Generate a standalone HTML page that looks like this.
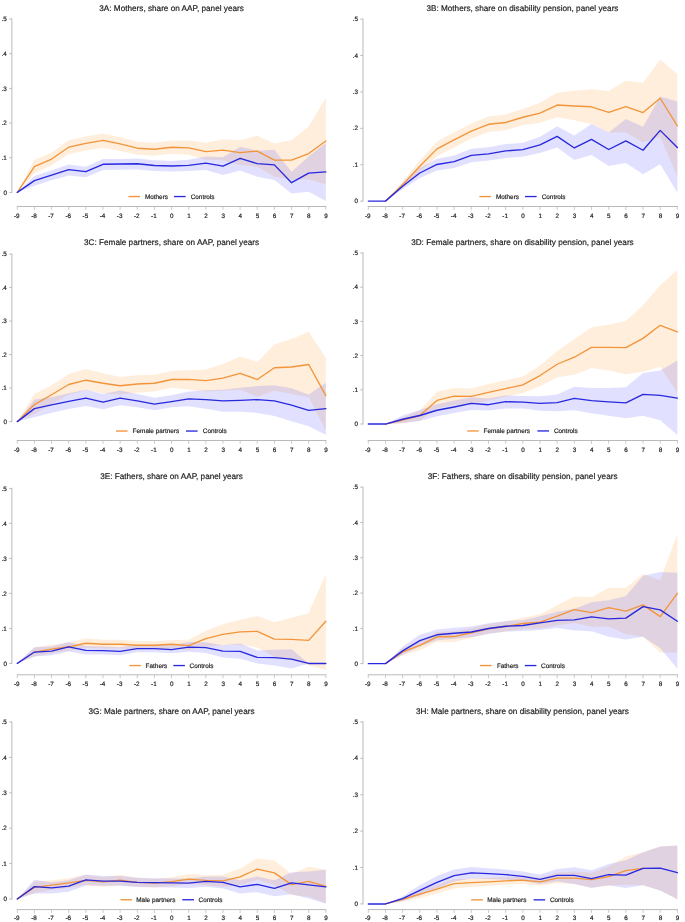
<!DOCTYPE html>
<html lang="en"><head><meta charset="utf-8"><title>Figure 3</title>
<style>
html,body{margin:0;padding:0;background:#fff;}
svg{display:block;}
svg text{font-family:"Liberation Sans",sans-serif;fill:#1c1c1c;text-rendering:geometricPrecision;stroke:#1c1c1c;stroke-width:0.18px;}
.t{font-size:8.2px;text-anchor:middle;}
.k{font-size:6.3px;}
.l{font-size:6.4px;}
.ax{stroke:#bababa;stroke-width:1;fill:none;}
.tk{stroke:#bababa;stroke-width:0.75;fill:none;}
.ob{fill:rgba(255,140,20,0.15);stroke:none;}
.bb{fill:rgba(40,40,255,0.14);stroke:none;}
.ol{stroke:#f2953a;stroke-width:1.35;fill:none;stroke-linejoin:round;stroke-linecap:round;}
.bl{stroke:#2828de;stroke-width:1.35;fill:none;stroke-linejoin:round;stroke-linecap:round;}
.lg{stroke-linecap:butt;}
</style></head><body>
<svg width="685" height="922" viewBox="0 0 685 922">
<rect width="685" height="922" fill="#fff"/>
<g id="panelA">
<text class="t" x="171.56" y="11">3A: Mothers, share on AAP, panel years</text>
<polygon class="ob" points="17.3,192.4 34.44,159.76 51.58,152.73 68.72,140.18 85.86,136.41 103,133.4 120.14,137.16 137.28,141.68 154.42,142.69 171.56,140.68 188.7,140.51 205.84,142.77 222.98,139.26 240.12,140.26 257.26,135.74 274.4,143.53 291.54,140.26 308.68,126.45 325.82,98.08 325.82,184.2 308.68,179.43 291.54,179.43 274.4,176.67 257.26,166.63 240.12,165.37 222.98,160.35 205.84,159.85 188.7,154.83 171.56,153.73 154.42,155.74 137.28,154.74 120.14,150.97 103,147.71 85.86,150.47 68.72,153.99 51.58,165.28 34.44,173.32 17.3,192.4"/>
<polygon class="bb" points="17.3,192.4 34.44,176.08 51.58,170.31 68.72,164.53 85.86,166.79 103,159.01 120.14,159.01 137.28,158.51 154.42,160.26 171.56,161.02 188.7,159.85 205.84,156.58 222.98,157.34 240.12,146.79 257.26,150.81 274.4,149.8 291.54,171.65 308.68,156.58 325.82,142.77 325.82,201.03 308.68,191.74 291.54,193.49 274.4,179.94 257.26,176.67 240.12,170.39 222.98,174.91 205.84,169.89 188.7,170.9 171.56,171.56 154.42,171.06 137.28,169.55 120.14,169.8 103,170.06 85.86,177.34 68.72,175.58 51.58,180.35 34.44,185.87 17.3,192.4"/>
<polyline class="ol" points="17.3,192.4 34.44,166.54 51.58,159.01 68.72,147.21 85.86,143.44 103,140.43 120.14,143.94 137.28,148.21 154.42,149.21 171.56,147.21 188.7,147.8 205.84,151.56 222.98,150.06 240.12,152.57 257.26,151.06 274.4,160.1 291.54,160.1 308.68,153.57 325.82,141.02"/>
<polyline class="bl" points="17.3,192.4 34.44,180.6 51.58,175.08 68.72,169.55 85.86,171.56 103,164.28 120.14,164.03 137.28,163.78 154.42,165.54 171.56,166.04 188.7,165.37 205.84,163.11 222.98,166.13 240.12,158.34 257.26,163.61 274.4,164.87 291.54,182.7 308.68,173.16 325.82,171.9"/>
<path class="ax" d="M11.9,192.9V18.5M16.8,206.5H326.32M11.9,192.4h-2.7M11.9,157.72h-2.7M11.9,123.04h-2.7M11.9,88.36h-2.7M11.9,53.68h-2.7M11.9,19h-2.7"/>
<path class="tk" d="M17.3,206.5v3.3M34.44,206.5v3.3M51.58,206.5v3.3M68.72,206.5v3.3M85.86,206.5v3.3M103,206.5v3.3M120.14,206.5v3.3M137.28,206.5v3.3M154.42,206.5v3.3M171.56,206.5v3.3M188.7,206.5v3.3M205.84,206.5v3.3M222.98,206.5v3.3M240.12,206.5v3.3M257.26,206.5v3.3M274.4,206.5v3.3M291.54,206.5v3.3M308.68,206.5v3.3M325.82,206.5v3.3"/>
<text class="k" text-anchor="end" x="6.9" y="194.55">0</text><text class="k" text-anchor="end" x="6.9" y="159.87">.1</text><text class="k" text-anchor="end" x="6.9" y="125.19">.2</text><text class="k" text-anchor="end" x="6.9" y="90.51">.3</text><text class="k" text-anchor="end" x="6.9" y="55.83">.4</text><text class="k" text-anchor="end" x="6.9" y="21.15">.5</text>
<text class="k" text-anchor="middle" x="16.8" y="217.6">-9</text><text class="k" text-anchor="middle" x="33.94" y="217.6">-8</text><text class="k" text-anchor="middle" x="51.08" y="217.6">-7</text><text class="k" text-anchor="middle" x="68.22" y="217.6">-6</text><text class="k" text-anchor="middle" x="85.36" y="217.6">-5</text><text class="k" text-anchor="middle" x="102.5" y="217.6">-4</text><text class="k" text-anchor="middle" x="119.64" y="217.6">-3</text><text class="k" text-anchor="middle" x="136.78" y="217.6">-2</text><text class="k" text-anchor="middle" x="153.92" y="217.6">-1</text><text class="k" text-anchor="middle" x="171.76" y="217.6">0</text><text class="k" text-anchor="middle" x="188.9" y="217.6">1</text><text class="k" text-anchor="middle" x="206.04" y="217.6">2</text><text class="k" text-anchor="middle" x="223.18" y="217.6">3</text><text class="k" text-anchor="middle" x="240.32" y="217.6">4</text><text class="k" text-anchor="middle" x="257.46" y="217.6">5</text><text class="k" text-anchor="middle" x="274.6" y="217.6">6</text><text class="k" text-anchor="middle" x="291.74" y="217.6">7</text><text class="k" text-anchor="middle" x="308.88" y="217.6">8</text><text class="k" text-anchor="middle" x="326.02" y="217.6">9</text>
<line class="ol lg" x1="128.4" x2="140" y1="196.55" y2="196.55"/><text class="l" x="144.9" y="198.6">Mothers</text><line class="bl lg" x1="174" x2="185.6" y1="196.55" y2="196.55"/><text class="l" x="190.7" y="198.6">Controls</text>
</g>
<g id="panelB">
<text class="t" x="522.43" y="11">3B: Mothers, share on disability pension, panel years</text>
<polygon class="ob" points="368.3,201.12 385.47,201.12 402.64,181.78 419.81,160.44 436.98,141.61 454.15,132.32 471.32,123.53 488.49,116.5 505.66,114.49 522.83,108.96 540,102.77 557.17,92.73 574.34,90.72 591.51,89.21 608.68,90.97 625.85,80.68 643.02,82.69 660.19,59.59 677.36,73.9 677.36,176.85 660.19,136.67 643.02,142.45 625.85,132.4 608.68,132.4 591.51,124.12 574.34,120.35 557.17,117.34 540,122.86 522.83,125.28 505.66,130.31 488.49,132.06 471.32,138.59 454.15,147.38 436.98,156.17 419.81,171.74 402.64,187.56 385.47,201.12 368.3,201.12"/>
<polygon class="bb" points="368.3,201.12 385.47,201.12 402.64,183.04 419.81,167.97 436.98,158.68 454.15,155.42 471.32,148.64 488.49,147.13 505.66,144.12 522.83,142.86 540,136.67 557.17,126.13 574.34,135.42 591.51,124.12 608.68,132.4 625.85,119.09 643.02,126.63 660.19,96.5 677.36,101.52 677.36,192.67 660.19,164.29 643.02,174.34 625.85,163.04 608.68,166.05 591.51,155 574.34,160.02 557.17,147.47 540,152.99 522.83,156.67 505.66,157.93 488.49,160.44 471.32,162.2 454.15,167.97 436.98,170.48 419.81,178.01 402.64,189.31 385.47,201.12 368.3,201.12"/>
<polyline class="ol" points="385.47,201.12 402.64,184.79 419.81,166.21 436.98,148.89 454.15,139.85 471.32,131.06 488.49,124.28 505.66,122.52 522.83,117.25 540,113.07 557.17,105.03 574.34,106.04 591.51,106.79 608.68,112.32 625.85,106.54 643.02,112.57 660.19,98.25 677.36,125.87"/>
<polyline class="bl" points="368.3,201.12 385.47,201.12 402.64,186.3 419.81,172.99 436.98,164.46 454.15,161.69 471.32,155.42 488.49,153.91 505.66,150.9 522.83,149.64 540,144.96 557.17,136.42 574.34,147.97 591.51,139.43 608.68,149.48 625.85,140.94 643.02,150.23 660.19,130.39 677.36,147.47"/>
<path class="ax" d="M363,201.6V18.6M367.8,206.5H677.86M363,201.1h-2.7M363,164.7h-2.7M363,128.3h-2.7M363,91.9h-2.7M363,55.5h-2.7M363,19.1h-2.7"/>
<path class="tk" d="M368.3,206.5v3.3M385.47,206.5v3.3M402.64,206.5v3.3M419.81,206.5v3.3M436.98,206.5v3.3M454.15,206.5v3.3M471.32,206.5v3.3M488.49,206.5v3.3M505.66,206.5v3.3M522.83,206.5v3.3M540,206.5v3.3M557.17,206.5v3.3M574.34,206.5v3.3M591.51,206.5v3.3M608.68,206.5v3.3M625.85,206.5v3.3M643.02,206.5v3.3M660.19,206.5v3.3M677.36,206.5v3.3"/>
<text class="k" text-anchor="end" x="358" y="203.25">0</text><text class="k" text-anchor="end" x="358" y="166.85">.1</text><text class="k" text-anchor="end" x="358" y="130.45">.2</text><text class="k" text-anchor="end" x="358" y="94.05">.3</text><text class="k" text-anchor="end" x="358" y="57.65">.4</text><text class="k" text-anchor="end" x="358" y="21.25">.5</text>
<text class="k" text-anchor="middle" x="367.8" y="217.6">-9</text><text class="k" text-anchor="middle" x="384.97" y="217.6">-8</text><text class="k" text-anchor="middle" x="402.14" y="217.6">-7</text><text class="k" text-anchor="middle" x="419.31" y="217.6">-6</text><text class="k" text-anchor="middle" x="436.48" y="217.6">-5</text><text class="k" text-anchor="middle" x="453.65" y="217.6">-4</text><text class="k" text-anchor="middle" x="470.82" y="217.6">-3</text><text class="k" text-anchor="middle" x="487.99" y="217.6">-2</text><text class="k" text-anchor="middle" x="505.16" y="217.6">-1</text><text class="k" text-anchor="middle" x="523.03" y="217.6">0</text><text class="k" text-anchor="middle" x="540.2" y="217.6">1</text><text class="k" text-anchor="middle" x="557.37" y="217.6">2</text><text class="k" text-anchor="middle" x="574.54" y="217.6">3</text><text class="k" text-anchor="middle" x="591.71" y="217.6">4</text><text class="k" text-anchor="middle" x="608.88" y="217.6">5</text><text class="k" text-anchor="middle" x="626.05" y="217.6">6</text><text class="k" text-anchor="middle" x="643.22" y="217.6">7</text><text class="k" text-anchor="middle" x="660.39" y="217.6">8</text><text class="k" text-anchor="middle" x="677.56" y="217.6">9</text>
<line class="ol lg" x1="479.4" x2="491" y1="196.55" y2="196.55"/><text class="l" x="495.9" y="198.6">Mothers</text><line class="bl lg" x1="525" x2="536.6" y1="196.55" y2="196.55"/><text class="l" x="541.7" y="198.6">Controls</text>
</g>
<g id="panelC">
<text class="t" x="171.56" y="244.9">3C: Female partners, share on AAP, panel years</text>
<polygon class="ob" points="17.3,421.65 34.44,394.03 51.58,385.24 68.72,373.94 85.86,368.92 103,373.19 120.14,376.95 137.28,375.2 154.42,374.69 171.56,370.93 188.7,370.26 205.84,369.51 222.98,363.99 240.12,356.45 257.26,361.98 274.4,344.4 291.54,338.88 308.68,331.85 325.82,357.71 325.82,430.53 308.68,397.13 291.54,394.12 274.4,390.85 257.26,396.63 240.12,389.85 222.98,390.85 205.84,391.61 188.7,389.85 171.56,387.75 154.42,391.52 137.28,392.77 120.14,394.53 103,393.28 85.86,390.26 68.72,394.78 51.58,404.07 34.44,414.12 17.3,421.65"/>
<polygon class="bb" points="17.3,421.65 34.44,399.55 51.58,397.29 68.72,393.28 85.86,389.76 103,394.03 120.14,390.51 137.28,394.03 154.42,397.8 171.56,395.28 188.7,391.61 205.84,390.35 222.98,389.85 240.12,387.84 257.26,386.08 274.4,385.33 291.54,388.34 308.68,394.62 325.82,382.82 325.82,434.79 308.68,426.26 291.54,421.24 274.4,415.96 257.26,412.95 240.12,411.69 222.98,411.69 205.84,408.68 188.7,406.17 171.56,407.34 154.42,410.35 137.28,407.34 120.14,405.33 103,409.35 85.86,406.08 68.72,409.09 51.58,412.86 34.44,417.13 17.3,421.65"/>
<polyline class="ol" points="17.3,421.65 34.44,404.58 51.58,394.78 68.72,384.49 85.86,380.22 103,383.23 120.14,385.74 137.28,383.99 154.42,383.23 171.56,379.47 188.7,379.3 205.84,380.56 222.98,378.05 240.12,373.28 257.26,379.55 274.4,367.75 291.54,367 308.68,364.49 325.82,395.62"/>
<polyline class="bl" points="17.3,421.65 34.44,408.59 51.58,404.83 68.72,401.31 85.86,398.05 103,402.06 120.14,398.05 137.28,400.81 154.42,404.07 171.56,401.56 188.7,398.89 205.84,399.64 222.98,400.9 240.12,400.39 257.26,399.64 274.4,400.9 291.54,405.16 308.68,410.44 325.82,408.68"/>
<path class="ax" d="M11.9,422.1V253.6M16.8,440.5H326.32M11.9,421.6h-2.7M11.9,388.1h-2.7M11.9,354.6h-2.7M11.9,321.1h-2.7M11.9,287.6h-2.7M11.9,254.1h-2.7"/>
<path class="tk" d="M17.3,440.5v3.3M34.44,440.5v3.3M51.58,440.5v3.3M68.72,440.5v3.3M85.86,440.5v3.3M103,440.5v3.3M120.14,440.5v3.3M137.28,440.5v3.3M154.42,440.5v3.3M171.56,440.5v3.3M188.7,440.5v3.3M205.84,440.5v3.3M222.98,440.5v3.3M240.12,440.5v3.3M257.26,440.5v3.3M274.4,440.5v3.3M291.54,440.5v3.3M308.68,440.5v3.3M325.82,440.5v3.3"/>
<text class="k" text-anchor="end" x="6.9" y="423.75">0</text><text class="k" text-anchor="end" x="6.9" y="390.25">.1</text><text class="k" text-anchor="end" x="6.9" y="356.75">.2</text><text class="k" text-anchor="end" x="6.9" y="323.25">.3</text><text class="k" text-anchor="end" x="6.9" y="289.75">.4</text><text class="k" text-anchor="end" x="6.9" y="256.25">.5</text>
<text class="k" text-anchor="middle" x="16.8" y="451.6">-9</text><text class="k" text-anchor="middle" x="33.94" y="451.6">-8</text><text class="k" text-anchor="middle" x="51.08" y="451.6">-7</text><text class="k" text-anchor="middle" x="68.22" y="451.6">-6</text><text class="k" text-anchor="middle" x="85.36" y="451.6">-5</text><text class="k" text-anchor="middle" x="102.5" y="451.6">-4</text><text class="k" text-anchor="middle" x="119.64" y="451.6">-3</text><text class="k" text-anchor="middle" x="136.78" y="451.6">-2</text><text class="k" text-anchor="middle" x="153.92" y="451.6">-1</text><text class="k" text-anchor="middle" x="171.76" y="451.6">0</text><text class="k" text-anchor="middle" x="188.9" y="451.6">1</text><text class="k" text-anchor="middle" x="206.04" y="451.6">2</text><text class="k" text-anchor="middle" x="223.18" y="451.6">3</text><text class="k" text-anchor="middle" x="240.32" y="451.6">4</text><text class="k" text-anchor="middle" x="257.46" y="451.6">5</text><text class="k" text-anchor="middle" x="274.6" y="451.6">6</text><text class="k" text-anchor="middle" x="291.74" y="451.6">7</text><text class="k" text-anchor="middle" x="308.88" y="451.6">8</text><text class="k" text-anchor="middle" x="326.02" y="451.6">9</text>
<line class="ol lg" x1="116" x2="127.6" y1="431.05" y2="431.05"/><text class="l" x="132.6" y="433.1">Female partners</text><line class="bl lg" x1="186" x2="197.6" y1="431.05" y2="431.05"/><text class="l" x="202.8" y="433.1">Controls</text>
</g>
<g id="panelD">
<text class="t" x="522.43" y="244.9">3D: Female partners, share on disability pension, panel years</text>
<polygon class="ob" points="368.3,424.04 385.47,424.04 402.64,417.51 419.81,410.48 436.98,391.65 454.15,387.88 471.32,388.39 488.49,384.12 505.66,380.35 522.83,376.58 540,365.5 557.17,350.94 574.34,339.14 591.51,327.34 608.68,324.83 625.85,321.06 643.02,305.24 660.19,285.15 677.36,270.09 677.36,393.12 660.19,366.76 643.02,371.78 625.85,374.29 608.68,370.53 591.51,368.01 574.34,374.79 557.17,377.56 540,386.34 522.83,392.91 505.66,396.67 488.49,400.44 471.32,404.46 454.15,404.96 436.98,408.47 419.81,420.53 402.64,423.54 385.47,424.04 368.3,424.04"/>
<polygon class="bb" points="368.3,424.04 385.47,424.04 402.64,415.5 419.81,409.98 436.98,404.2 454.15,400.44 471.32,397.17 488.49,398.43 505.66,395.42 522.83,395.92 540,396.14 557.17,394.38 574.34,386.85 591.51,388.1 608.68,388.1 625.85,387.35 643.02,373.04 660.19,370.53 677.36,360.48 677.36,435.06 660.19,420.24 643.02,415.72 625.85,418.23 608.68,415.72 591.51,413.21 574.34,410.2 557.17,411.2 540,410.7 522.83,408.47 505.66,408.47 488.49,410.48 471.32,409.98 454.15,412.99 436.98,416.26 419.81,421.03 402.64,423.04 385.47,424.04 368.3,424.04"/>
<polyline class="ol" points="385.47,424.04 402.64,420.02 419.81,415.5 436.98,400.44 454.15,396.17 471.32,396.42 488.49,392.4 505.66,388.64 522.83,384.87 540,375.55 557.17,364.25 574.34,357.22 591.51,347.42 608.68,347.42 625.85,347.68 643.02,338.39 660.19,325.33 677.36,331.86"/>
<polyline class="bl" points="368.3,424.04 385.47,424.04 402.64,419.27 419.81,415.5 436.98,410.23 454.15,406.97 471.32,403.45 488.49,404.71 505.66,401.69 522.83,402.2 540,403.42 557.17,402.67 574.34,398.4 591.51,400.66 608.68,401.91 625.85,402.92 643.02,394.38 660.19,395.38 677.36,398.15"/>
<path class="ax" d="M363,424.5V252.5M367.8,440.5H677.86M363,424h-2.7M363,389.8h-2.7M363,355.6h-2.7M363,321.4h-2.7M363,287.2h-2.7M363,253h-2.7"/>
<path class="tk" d="M368.3,440.5v3.3M385.47,440.5v3.3M402.64,440.5v3.3M419.81,440.5v3.3M436.98,440.5v3.3M454.15,440.5v3.3M471.32,440.5v3.3M488.49,440.5v3.3M505.66,440.5v3.3M522.83,440.5v3.3M540,440.5v3.3M557.17,440.5v3.3M574.34,440.5v3.3M591.51,440.5v3.3M608.68,440.5v3.3M625.85,440.5v3.3M643.02,440.5v3.3M660.19,440.5v3.3M677.36,440.5v3.3"/>
<text class="k" text-anchor="end" x="358" y="426.15">0</text><text class="k" text-anchor="end" x="358" y="391.95">.1</text><text class="k" text-anchor="end" x="358" y="357.75">.2</text><text class="k" text-anchor="end" x="358" y="323.55">.3</text><text class="k" text-anchor="end" x="358" y="289.35">.4</text><text class="k" text-anchor="end" x="358" y="255.15">.5</text>
<text class="k" text-anchor="middle" x="367.8" y="451.6">-9</text><text class="k" text-anchor="middle" x="384.97" y="451.6">-8</text><text class="k" text-anchor="middle" x="402.14" y="451.6">-7</text><text class="k" text-anchor="middle" x="419.31" y="451.6">-6</text><text class="k" text-anchor="middle" x="436.48" y="451.6">-5</text><text class="k" text-anchor="middle" x="453.65" y="451.6">-4</text><text class="k" text-anchor="middle" x="470.82" y="451.6">-3</text><text class="k" text-anchor="middle" x="487.99" y="451.6">-2</text><text class="k" text-anchor="middle" x="505.16" y="451.6">-1</text><text class="k" text-anchor="middle" x="523.03" y="451.6">0</text><text class="k" text-anchor="middle" x="540.2" y="451.6">1</text><text class="k" text-anchor="middle" x="557.37" y="451.6">2</text><text class="k" text-anchor="middle" x="574.54" y="451.6">3</text><text class="k" text-anchor="middle" x="591.71" y="451.6">4</text><text class="k" text-anchor="middle" x="608.88" y="451.6">5</text><text class="k" text-anchor="middle" x="626.05" y="451.6">6</text><text class="k" text-anchor="middle" x="643.22" y="451.6">7</text><text class="k" text-anchor="middle" x="660.39" y="451.6">8</text><text class="k" text-anchor="middle" x="677.56" y="451.6">9</text>
<line class="ol lg" x1="467.2" x2="478.8" y1="430.95" y2="430.95"/><text class="l" x="483.5" y="433">Female partners</text><line class="bl lg" x1="537.4" x2="549" y1="430.95" y2="430.95"/><text class="l" x="553.9" y="433">Controls</text>
</g>
<g id="panelE">
<text class="t" x="171.56" y="479.2">3E: Fathers, share on AAP, panel years</text>
<polygon class="ob" points="17.3,663.36 34.44,647.29 51.58,644.78 68.72,642.77 85.86,638.25 103,639.76 120.14,639.76 137.28,641.02 154.42,641.27 171.56,640.26 188.7,639.85 205.84,630.81 222.98,624.03 240.12,619.76 257.26,615.99 274.4,622.27 291.54,617.75 308.68,613.23 325.82,573.81 325.82,669.73 308.68,665.46 291.54,659.94 274.4,656.67 257.26,647.38 240.12,644.87 222.98,645.37 205.84,646.63 188.7,649.89 171.56,648.55 154.42,649.3 137.28,649.3 120.14,648.55 103,648.55 85.86,647.8 68.72,650.81 51.58,653.32 34.44,656.58 17.3,663.36"/>
<polygon class="bb" points="17.3,663.36 34.44,647.29 51.58,646.54 68.72,642.02 85.86,646.04 103,646.54 120.14,647.29 137.28,644.78 154.42,644.78 171.56,645.28 188.7,642.11 205.84,642.36 222.98,645.37 240.12,643.61 257.26,650.39 274.4,649.64 291.54,649.14 308.68,663.45 325.82,663.45 325.82,663.45 308.68,663.45 291.54,668.47 274.4,665.46 257.26,663.45 240.12,658.68 222.98,657.42 205.84,652.91 188.7,651.65 171.56,653.32 154.42,652.32 137.28,652.32 120.14,655.33 103,654.58 85.86,654.58 68.72,651.56 51.58,655.33 34.44,656.58 17.3,663.36"/>
<polyline class="ol" points="34.44,652.06 51.58,649.05 68.72,646.79 85.86,643.28 103,644.28 120.14,644.28 137.28,645.28 154.42,645.28 171.56,644.28 188.7,645.62 205.84,638.59 222.98,634.32 240.12,631.81 257.26,631.31 274.4,639.09 291.54,639.35 308.68,640.35 325.82,621.27"/>
<polyline class="bl" points="17.3,663.36 34.44,652.06 51.58,651.06 68.72,646.79 85.86,650.31 103,650.56 120.14,651.31 137.28,648.55 154.42,648.55 171.56,649.55 188.7,647.13 205.84,647.63 222.98,651.15 240.12,651.4 257.26,657.42 274.4,657.68 291.54,659.18 308.68,663.45 325.82,663.45"/>
<path class="ax" d="M11.9,663.9V487.9M16.8,674.8H326.32M11.9,663.4h-2.7M11.9,628.4h-2.7M11.9,593.4h-2.7M11.9,558.4h-2.7M11.9,523.4h-2.7M11.9,488.4h-2.7"/>
<path class="tk" d="M17.3,674.8v3.3M34.44,674.8v3.3M51.58,674.8v3.3M68.72,674.8v3.3M85.86,674.8v3.3M103,674.8v3.3M120.14,674.8v3.3M137.28,674.8v3.3M154.42,674.8v3.3M171.56,674.8v3.3M188.7,674.8v3.3M205.84,674.8v3.3M222.98,674.8v3.3M240.12,674.8v3.3M257.26,674.8v3.3M274.4,674.8v3.3M291.54,674.8v3.3M308.68,674.8v3.3M325.82,674.8v3.3"/>
<text class="k" text-anchor="end" x="6.9" y="665.55">0</text><text class="k" text-anchor="end" x="6.9" y="630.55">.1</text><text class="k" text-anchor="end" x="6.9" y="595.55">.2</text><text class="k" text-anchor="end" x="6.9" y="560.55">.3</text><text class="k" text-anchor="end" x="6.9" y="525.55">.4</text><text class="k" text-anchor="end" x="6.9" y="490.55">.5</text>
<text class="k" text-anchor="middle" x="16.8" y="685.65">-9</text><text class="k" text-anchor="middle" x="33.94" y="685.65">-8</text><text class="k" text-anchor="middle" x="51.08" y="685.65">-7</text><text class="k" text-anchor="middle" x="68.22" y="685.65">-6</text><text class="k" text-anchor="middle" x="85.36" y="685.65">-5</text><text class="k" text-anchor="middle" x="102.5" y="685.65">-4</text><text class="k" text-anchor="middle" x="119.64" y="685.65">-3</text><text class="k" text-anchor="middle" x="136.78" y="685.65">-2</text><text class="k" text-anchor="middle" x="153.92" y="685.65">-1</text><text class="k" text-anchor="middle" x="171.76" y="685.65">0</text><text class="k" text-anchor="middle" x="188.9" y="685.65">1</text><text class="k" text-anchor="middle" x="206.04" y="685.65">2</text><text class="k" text-anchor="middle" x="223.18" y="685.65">3</text><text class="k" text-anchor="middle" x="240.32" y="685.65">4</text><text class="k" text-anchor="middle" x="257.46" y="685.65">5</text><text class="k" text-anchor="middle" x="274.6" y="685.65">6</text><text class="k" text-anchor="middle" x="291.74" y="685.65">7</text><text class="k" text-anchor="middle" x="308.88" y="685.65">8</text><text class="k" text-anchor="middle" x="326.02" y="685.65">9</text>
<line class="ol lg" x1="129.3" x2="140.9" y1="665.55" y2="665.55"/><text class="l" x="145.6" y="667.6">Fathers</text><line class="bl lg" x1="173.3" x2="184.9" y1="665.55" y2="665.55"/><text class="l" x="189.6" y="667.6">Controls</text>
</g>
<g id="panelF">
<text class="t" x="522.63" y="479">3F: Fathers, share on disability pension, panel years</text>
<polygon class="ob" points="368.3,663.66 385.47,663.66 402.64,648.34 419.81,640.31 436.98,632.02 454.15,631.02 471.32,628.25 488.49,623.99 505.66,621.47 522.83,617.71 540,614.16 557.17,605.37 574.34,596.58 591.51,597.34 608.68,587.8 625.85,587.8 643.02,573.99 660.19,580.26 677.36,533.81 677.36,652.58 660.19,652.58 643.02,636.76 625.85,634.25 608.68,626.72 591.51,626.72 574.34,622.95 557.17,625.46 540,628.47 522.83,629.01 505.66,631.52 488.49,633.53 471.32,637.8 454.15,642.06 436.98,641.81 419.81,650.35 402.64,655.37 385.47,663.66 368.3,663.66"/>
<polygon class="bb" points="368.3,663.66 385.47,663.66 402.64,646.58 419.81,634.78 436.98,629.51 454.15,627.75 471.32,626.5 488.49,623.23 505.66,620.97 522.83,620.22 540,616.17 557.17,611.65 574.34,608.64 591.51,602.36 608.68,600.35 625.85,596.08 643.02,575.74 660.19,571.98 677.36,572.73 677.36,668.65 660.19,648.06 643.02,636.76 625.85,639.52 608.68,636.76 591.51,631.24 574.34,630.48 557.17,627.97 540,629.98 522.83,631.02 505.66,631.52 488.49,634.03 471.32,637.29 454.15,638.8 436.98,640.31 419.81,646.58 402.64,654.87 385.47,663.66 368.3,663.66"/>
<polyline class="ol" points="385.47,663.66 402.64,651.86 419.81,645.33 436.98,636.79 454.15,636.54 471.32,632.77 488.49,628.76 505.66,626.5 522.83,623.48 540,622.2 557.17,616.17 574.34,609.64 591.51,612.65 608.68,607.63 625.85,611.15 643.02,604.87 660.19,616.67 677.36,593.32"/>
<polyline class="bl" points="368.3,663.66 385.47,663.66 402.64,650.85 419.81,640.56 436.98,634.78 454.15,633.28 471.32,632.02 488.49,628.51 505.66,626.25 522.83,625.49 540,622.95 557.17,620.44 574.34,619.94 591.51,616.92 608.68,618.93 625.85,618.18 643.02,606.63 660.19,609.89 677.36,621.19"/>
<path class="ax" d="M363,664.15V486.65M367.8,674.8H677.86M363,663.65h-2.7M363,628.35h-2.7M363,593.05h-2.7M363,557.75h-2.7M363,522.45h-2.7M363,487.15h-2.7"/>
<path class="tk" d="M368.3,674.8v3.3M385.47,674.8v3.3M402.64,674.8v3.3M419.81,674.8v3.3M436.98,674.8v3.3M454.15,674.8v3.3M471.32,674.8v3.3M488.49,674.8v3.3M505.66,674.8v3.3M522.83,674.8v3.3M540,674.8v3.3M557.17,674.8v3.3M574.34,674.8v3.3M591.51,674.8v3.3M608.68,674.8v3.3M625.85,674.8v3.3M643.02,674.8v3.3M660.19,674.8v3.3M677.36,674.8v3.3"/>
<text class="k" text-anchor="end" x="358" y="665.8">0</text><text class="k" text-anchor="end" x="358" y="630.5">.1</text><text class="k" text-anchor="end" x="358" y="595.2">.2</text><text class="k" text-anchor="end" x="358" y="559.9">.3</text><text class="k" text-anchor="end" x="358" y="524.6">.4</text><text class="k" text-anchor="end" x="358" y="489.3">.5</text>
<text class="k" text-anchor="middle" x="367.8" y="685.65">-9</text><text class="k" text-anchor="middle" x="384.97" y="685.65">-8</text><text class="k" text-anchor="middle" x="402.14" y="685.65">-7</text><text class="k" text-anchor="middle" x="419.31" y="685.65">-6</text><text class="k" text-anchor="middle" x="436.48" y="685.65">-5</text><text class="k" text-anchor="middle" x="453.65" y="685.65">-4</text><text class="k" text-anchor="middle" x="470.82" y="685.65">-3</text><text class="k" text-anchor="middle" x="487.99" y="685.65">-2</text><text class="k" text-anchor="middle" x="505.16" y="685.65">-1</text><text class="k" text-anchor="middle" x="523.03" y="685.65">0</text><text class="k" text-anchor="middle" x="540.2" y="685.65">1</text><text class="k" text-anchor="middle" x="557.37" y="685.65">2</text><text class="k" text-anchor="middle" x="574.54" y="685.65">3</text><text class="k" text-anchor="middle" x="591.71" y="685.65">4</text><text class="k" text-anchor="middle" x="608.88" y="685.65">5</text><text class="k" text-anchor="middle" x="626.05" y="685.65">6</text><text class="k" text-anchor="middle" x="643.22" y="685.65">7</text><text class="k" text-anchor="middle" x="660.39" y="685.65">8</text><text class="k" text-anchor="middle" x="677.56" y="685.65">9</text>
<line class="ol lg" x1="480" x2="491.6" y1="665.55" y2="665.55"/><text class="l" x="496.9" y="667.6">Fathers</text><line class="bl lg" x1="524.8" x2="536.4" y1="665.55" y2="665.55"/><text class="l" x="541.1" y="667.6">Controls</text>
</g>
<g id="panelG">
<text class="t" x="171.56" y="713.8">3G: Male partners, share on AAP, panel years</text>
<polygon class="ob" points="17.3,898.93 34.44,881.61 51.58,880.35 68.72,878.34 85.86,874.83 103,877.34 120.14,874.83 137.28,877.84 154.42,879.09 171.56,877.34 188.7,874.07 205.84,875.33 222.98,874.83 240.12,868.55 257.26,858.51 274.4,860.51 291.54,874.07 308.68,866.54 325.82,869.8 325.82,903.45 308.68,896.67 291.54,894.91 274.4,885.37 257.26,879.85 240.12,885.37 222.98,886.63 205.84,885.37 188.7,884.12 171.56,886.13 154.42,887.38 137.28,886.63 120.14,885.37 103,886.63 85.86,885.37 68.72,887.88 51.58,889.89 34.44,892.91 17.3,898.93"/>
<polygon class="bb" points="17.3,898.93 34.44,879.85 51.58,882.36 68.72,880.35 85.86,874.58 103,876.08 120.14,876.08 137.28,877.84 154.42,878.34 171.56,878.59 188.7,878.59 205.84,876.58 222.98,876.58 240.12,880.35 257.26,876.58 274.4,880.35 291.54,872.32 308.68,871.56 325.82,869.8 325.82,903.45 308.68,898.43 291.54,894.16 274.4,896.17 257.26,892.15 240.12,893.41 222.98,888.39 205.84,886.63 188.7,887.88 171.56,887.38 154.42,887.13 137.28,886.88 120.14,885.87 103,885.87 85.86,885.37 68.72,891.65 51.58,893.41 34.44,893.41 17.3,898.93"/>
<polyline class="ol" points="17.3,898.93 34.44,887.38 51.58,885.12 68.72,882.86 85.86,880.35 103,881.86 120.14,880.1 137.28,882.36 154.42,883.11 171.56,881.61 188.7,879.09 205.84,880.35 222.98,880.85 240.12,876.84 257.26,869.05 274.4,872.82 291.54,884.62 308.68,881.35 325.82,886.38"/>
<polyline class="bl" points="17.3,898.93 34.44,886.63 51.58,887.88 68.72,886.13 85.86,879.85 103,881.1 120.14,881.1 137.28,882.36 154.42,882.61 171.56,882.86 188.7,883.11 205.84,881.35 222.98,882.36 240.12,886.88 257.26,884.37 274.4,888.39 291.54,882.86 308.68,884.87 325.82,886.88"/>
<path class="ax" d="M11.9,899.5V721.5M16.8,909.6H326.32M11.9,899h-2.7M11.9,863.6h-2.7M11.9,828.2h-2.7M11.9,792.8h-2.7M11.9,757.4h-2.7M11.9,722h-2.7"/>
<path class="tk" d="M17.3,909.6v3.3M34.44,909.6v3.3M51.58,909.6v3.3M68.72,909.6v3.3M85.86,909.6v3.3M103,909.6v3.3M120.14,909.6v3.3M137.28,909.6v3.3M154.42,909.6v3.3M171.56,909.6v3.3M188.7,909.6v3.3M205.84,909.6v3.3M222.98,909.6v3.3M240.12,909.6v3.3M257.26,909.6v3.3M274.4,909.6v3.3M291.54,909.6v3.3M308.68,909.6v3.3M325.82,909.6v3.3"/>
<text class="k" text-anchor="end" x="6.9" y="901.15">0</text><text class="k" text-anchor="end" x="6.9" y="865.75">.1</text><text class="k" text-anchor="end" x="6.9" y="830.35">.2</text><text class="k" text-anchor="end" x="6.9" y="794.95">.3</text><text class="k" text-anchor="end" x="6.9" y="759.55">.4</text><text class="k" text-anchor="end" x="6.9" y="724.15">.5</text>
<text class="k" text-anchor="middle" x="16.8" y="920.4">-9</text><text class="k" text-anchor="middle" x="33.94" y="920.4">-8</text><text class="k" text-anchor="middle" x="51.08" y="920.4">-7</text><text class="k" text-anchor="middle" x="68.22" y="920.4">-6</text><text class="k" text-anchor="middle" x="85.36" y="920.4">-5</text><text class="k" text-anchor="middle" x="102.5" y="920.4">-4</text><text class="k" text-anchor="middle" x="119.64" y="920.4">-3</text><text class="k" text-anchor="middle" x="136.78" y="920.4">-2</text><text class="k" text-anchor="middle" x="153.92" y="920.4">-1</text><text class="k" text-anchor="middle" x="171.76" y="920.4">0</text><text class="k" text-anchor="middle" x="188.9" y="920.4">1</text><text class="k" text-anchor="middle" x="206.04" y="920.4">2</text><text class="k" text-anchor="middle" x="223.18" y="920.4">3</text><text class="k" text-anchor="middle" x="240.32" y="920.4">4</text><text class="k" text-anchor="middle" x="257.46" y="920.4">5</text><text class="k" text-anchor="middle" x="274.6" y="920.4">6</text><text class="k" text-anchor="middle" x="291.74" y="920.4">7</text><text class="k" text-anchor="middle" x="308.88" y="920.4">8</text><text class="k" text-anchor="middle" x="326.02" y="920.4">9</text>
<line class="ol lg" x1="120.5" x2="132.1" y1="899.75" y2="899.75"/><text class="l" x="136.3" y="901.8">Male partners</text><line class="bl lg" x1="182.3" x2="193.9" y1="899.75" y2="899.75"/><text class="l" x="198.6" y="901.8">Controls</text>
</g>
<g id="panelH">
<text class="t" x="522.43" y="713.8">3H: Male partners, share on disability pension, panel years</text>
<polygon class="ob" points="368.3,903.95 385.47,903.95 402.64,897.42 419.81,890.39 436.98,884.87 454.15,879.09 471.32,878.59 488.49,877.84 505.66,877.09 522.83,876.08 540,877.84 557.17,872.82 574.34,871.56 591.51,872.82 608.68,866.54 625.85,856.5 643.02,852.23 660.19,846.45 677.36,845.45 677.36,899.18 660.19,890.39 643.02,885.37 625.85,884.87 608.68,885.87 591.51,887.38 574.34,884.12 557.17,883.36 540,885.87 522.83,884.12 505.66,884.87 488.49,885.87 471.32,886.88 454.15,888.39 436.98,893.41 419.81,897.93 402.64,901.69 385.47,903.95 368.3,903.95"/>
<polygon class="bb" points="368.3,903.95 385.47,903.95 402.64,896.17 419.81,885.37 436.98,876.08 454.15,869.55 471.32,867.04 488.49,868.3 505.66,869.55 522.83,871.56 540,874.58 557.17,869.05 574.34,867.29 591.51,870.31 608.68,864.03 625.85,860.26 643.02,852.23 660.19,846.45 677.36,845.45 677.36,899.18 660.19,890.39 643.02,885.37 625.85,887.88 608.68,885.37 591.51,887.88 574.34,884.12 557.17,881.61 540,884.12 522.83,881.1 505.66,879.85 488.49,879.09 471.32,878.59 454.15,881.61 436.98,888.39 419.81,895.42 402.64,900.94 385.47,903.95 368.3,903.95"/>
<polyline class="ol" points="385.47,903.95 402.64,899.43 419.81,894.16 436.98,889.14 454.15,883.61 471.32,882.61 488.49,881.86 505.66,880.85 522.83,880.1 540,881.86 557.17,878.09 574.34,878.09 591.51,879.6 608.68,876.58 625.85,870.56 643.02,868.3"/>
<polyline class="bl" points="368.3,903.95 385.47,903.95 402.64,898.68 419.81,890.39 436.98,882.36 454.15,875.58 471.32,872.82 488.49,873.57 505.66,874.58 522.83,876.33 540,879.35 557.17,875.33 574.34,875.33 591.51,878.59 608.68,874.58 625.85,875.08 643.02,868.3 660.19,868.05 677.36,872.57"/>
<path class="ax" d="M363,904.4V721.4M367.8,909.6H677.86M363,903.9h-2.7M363,867.5h-2.7M363,831.1h-2.7M363,794.7h-2.7M363,758.3h-2.7M363,721.9h-2.7"/>
<path class="tk" d="M368.3,909.6v3.3M385.47,909.6v3.3M402.64,909.6v3.3M419.81,909.6v3.3M436.98,909.6v3.3M454.15,909.6v3.3M471.32,909.6v3.3M488.49,909.6v3.3M505.66,909.6v3.3M522.83,909.6v3.3M540,909.6v3.3M557.17,909.6v3.3M574.34,909.6v3.3M591.51,909.6v3.3M608.68,909.6v3.3M625.85,909.6v3.3M643.02,909.6v3.3M660.19,909.6v3.3M677.36,909.6v3.3"/>
<text class="k" text-anchor="end" x="358" y="906.05">0</text><text class="k" text-anchor="end" x="358" y="869.65">.1</text><text class="k" text-anchor="end" x="358" y="833.25">.2</text><text class="k" text-anchor="end" x="358" y="796.85">.3</text><text class="k" text-anchor="end" x="358" y="760.45">.4</text><text class="k" text-anchor="end" x="358" y="724.05">.5</text>
<text class="k" text-anchor="middle" x="367.8" y="920.4">-9</text><text class="k" text-anchor="middle" x="384.97" y="920.4">-8</text><text class="k" text-anchor="middle" x="402.14" y="920.4">-7</text><text class="k" text-anchor="middle" x="419.31" y="920.4">-6</text><text class="k" text-anchor="middle" x="436.48" y="920.4">-5</text><text class="k" text-anchor="middle" x="453.65" y="920.4">-4</text><text class="k" text-anchor="middle" x="470.82" y="920.4">-3</text><text class="k" text-anchor="middle" x="487.99" y="920.4">-2</text><text class="k" text-anchor="middle" x="505.16" y="920.4">-1</text><text class="k" text-anchor="middle" x="523.03" y="920.4">0</text><text class="k" text-anchor="middle" x="540.2" y="920.4">1</text><text class="k" text-anchor="middle" x="557.37" y="920.4">2</text><text class="k" text-anchor="middle" x="574.54" y="920.4">3</text><text class="k" text-anchor="middle" x="591.71" y="920.4">4</text><text class="k" text-anchor="middle" x="608.88" y="920.4">5</text><text class="k" text-anchor="middle" x="626.05" y="920.4">6</text><text class="k" text-anchor="middle" x="643.22" y="920.4">7</text><text class="k" text-anchor="middle" x="660.39" y="920.4">8</text><text class="k" text-anchor="middle" x="677.56" y="920.4">9</text>
<line class="ol lg" x1="471.2" x2="482.8" y1="899.85" y2="899.85"/><text class="l" x="487.3" y="901.9">Male partners</text><line class="bl lg" x1="533.6" x2="545.2" y1="899.85" y2="899.85"/><text class="l" x="549.9" y="901.9">Controls</text>
</g>
</svg>
</body></html>
